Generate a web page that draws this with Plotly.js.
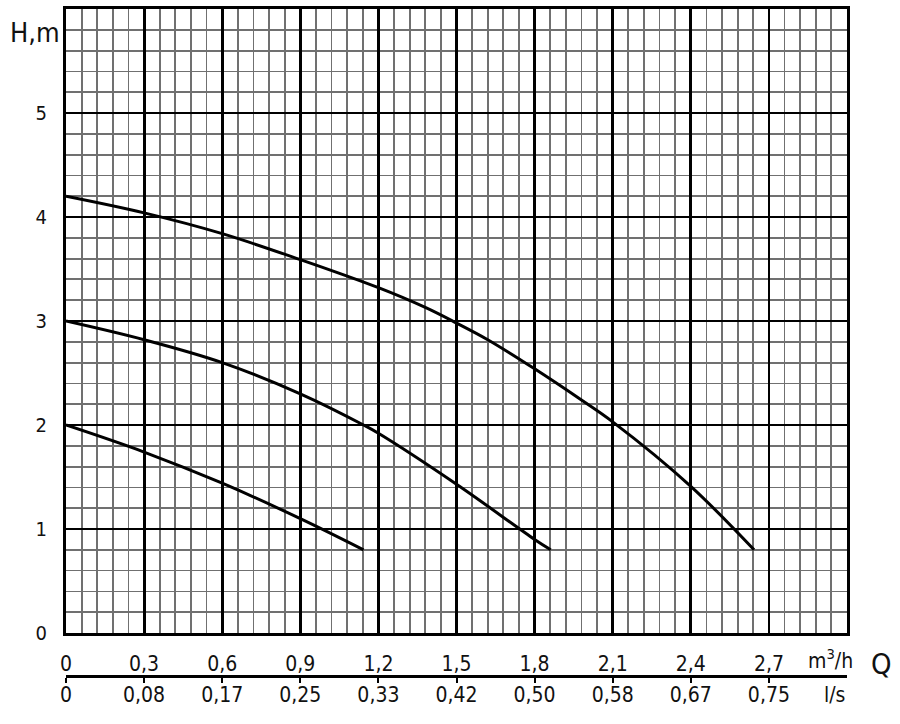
<!DOCTYPE html>
<html>
<head>
<meta charset="utf-8">
<script src="https://cdn.plot.ly/plotly-3.0.1.min.js"></script>
<style>
html,body{margin:0;padding:0;background:#fff;}
#chart{width:900px;height:724px;}
</style>
</head>
<body>
<div id="chart"></div>
<script>
// Flow Q in m3/h, head H in m
const curve1Q = [0, 0.3, 0.6, 0.9, 1.2, 1.38, 1.5, 1.62, 1.8, 1.98, 2.1, 2.4, 2.643];
const curve1H = [4.20, 4.04, 3.84, 3.59, 3.32, 3.13, 2.98, 2.82, 2.54, 2.24, 2.03, 1.41, 0.80];
const curve2Q = [0, 0.3, 0.6, 0.9, 1.143, 1.2, 1.5, 1.8, 1.862];
const curve2H = [3.00, 2.82, 2.60, 2.30, 2.00, 1.92, 1.43, 0.90, 0.80];
const curve3Q = [0, 0.3, 0.6, 0.9, 1.143];
const curve3H = [2.00, 1.74, 1.44, 1.10, 0.80];

const qTickVals = [0, 0.3, 0.6, 0.9, 1.2, 1.5, 1.8, 2.1, 2.4, 2.7];
const qTickTextM3h = ["0", "0,3", "0,6", "0,9", "1,2", "1,5", "1,8", "2,1", "2,4", "2,7"];
const qTickTextLs = ["0", "0,08", "0,17", "0,25", "0,33", "0,42", "0,50", "0,58", "0,67", "0,75"];
const hTickVals = [0, 1, 2, 3, 4, 5];
const hTickText = ["0", "1", "2", "3", "4", "5"];

const FONT = "'DejaVu Sans Condensed', 'Liberation Sans Narrow', 'DejaVu Sans', sans-serif";
const INK = "#111";

// minor grid positions (5 subdivisions per major cell), skipping the majors
function minorVals(step, count) {
  const out = [];
  for (let k = 1; k < count; k++) {
    if (k % 5 !== 0) out.push(Math.round(k * step * 1000) / 1000);
  }
  return out;
}
const xMinor = minorVals(0.06, 50);
const yMinor = minorVals(0.2, 30);

const lineStyle = {color: "#000", width: 3, shape: "spline", smoothing: 1};
const traces = [
  {x: curve1Q, y: curve1H, mode: "lines", line: lineStyle, hoverinfo: "skip", showlegend: false},
  {x: curve2Q, y: curve2H, mode: "lines", line: lineStyle, hoverinfo: "skip", showlegend: false},
  {x: curve3Q, y: curve3H, mode: "lines", line: lineStyle, hoverinfo: "skip", showlegend: false},
  {x: [0], y: [0], xaxis: "x2", mode: "markers", marker: {opacity: 0}, hoverinfo: "skip", showlegend: false}
];

const plotBottomPx = 633, axis2Px = 676, topPx = 9, H = 724;
const plotH = H - topPx - (H - axis2Px);
const yDomLow = (axis2Px - plotBottomPx) / plotH;
const plotL = 66, plotW = 900 - 66 - 53;

const layout = {
  width: 900, height: 724,
  margin: {l: plotL, r: 53, t: topPx, b: H - axis2Px},
  paper_bgcolor: "#fff", plot_bgcolor: "#fff",
  font: {family: FONT, color: INK},
  xaxis: {
    range: [0, 3], tickvals: qTickVals, ticktext: qTickTextM3h,
    showgrid: true, gridcolor: "#000", gridwidth: 2.8,
    minor: {tickmode: "array", tickvals: xMinor, showgrid: true, gridcolor: "#707070", gridwidth: 1.8, ticks: ""},
    showline: true, linecolor: "#000", linewidth: 3, mirror: true,
    ticks: "", ticklabelstandoff: 10,
    tickfont: {size: 21, family: FONT, color: INK},
    zeroline: false, fixedrange: true, anchor: "y"
  },
  xaxis2: {
    range: [0, 3], tickvals: qTickVals, ticktext: qTickTextLs,
    overlaying: "x", anchor: "free", position: 0, side: "bottom",
    showgrid: false, zeroline: false,
    showline: true, linecolor: "#000", linewidth: 3,
    ticks: "outside", ticklen: 5, tickwidth: 2, tickcolor: "#000",
    ticklabelstandoff: -6,
    tickfont: {size: 21, family: FONT, color: INK},
    fixedrange: true
  },
  yaxis: {
    range: [0, 6], domain: [yDomLow, 1], tickvals: hTickVals, ticktext: hTickText,
    showgrid: true, gridcolor: "#000", gridwidth: 2.8,
    minor: {tickmode: "array", tickvals: yMinor, showgrid: true, gridcolor: "#707070", gridwidth: 1.8, ticks: ""},
    showline: true, linecolor: "#000", linewidth: 3, mirror: true,
    ticks: "", ticklabelstandoff: 12,
    tickfont: {size: 20, family: FONT, color: INK},
    zeroline: false, fixedrange: true
  },
  annotations: [
    {text: "H,m", xref: "paper", yref: "paper", x: (8 - plotL) / plotW, y: 1, xanchor: "left", yanchor: "middle",
     yshift: -23, showarrow: false, font: {size: 27, family: FONT, color: INK}},
    {text: "m<sup>3</sup>/h", xref: "paper", yref: "paper", x: 1, xanchor: "right", yanchor: "middle",
     y: 0, yshift: axis2Px - 659, xshift: 8, showarrow: false, font: {size: 21, family: FONT, color: INK}},
    {text: "Q", xref: "paper", yref: "paper", x: 1, xanchor: "center", yanchor: "middle",
     y: 0, yshift: axis2Px - 664, xshift: 34, showarrow: false, font: {size: 29, family: FONT, color: INK}},
    {text: "l/s", xref: "paper", yref: "paper", x: 1, xanchor: "right", yanchor: "middle",
     y: 0, yshift: axis2Px - 695, xshift: 0, showarrow: false, font: {size: 21, family: FONT, color: INK}}
  ]
};

Plotly.newPlot("chart", traces, layout, {staticPlot: true, displayModeBar: false});
</script>
</body>
</html>
